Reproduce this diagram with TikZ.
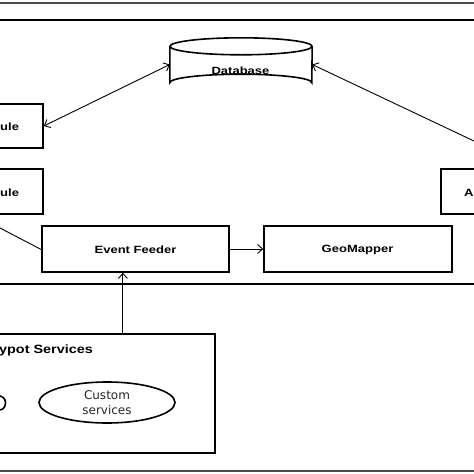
\documentclass[tikz,border=0pt]{standalone}
\usepackage{fontspec}
\usepackage{graphicx}
\setmainfont{Liberation Sans}
\newfontfamily\csfont{DejaVu Sans}
\usetikzlibrary{arrows.meta,shapes.geometric,calc}
\newcommand\wtxt[1]{\scalebox{1.24}[1]{#1}}
\newcommand\htxt[1]{\scalebox{1.2}[1]{#1}}
\tikzset{
  boxst/.style={draw, line width=1.6pt, rectangle, inner sep=0pt},
  lbl/.style={font=\fontsize{10.5}{12}\selectfont\bfseries, inner sep=0pt},
  hlbl/.style={font=\fontsize{12}{14}\selectfont\bfseries, inner sep=0pt},
  arr/.style={line width=0.9pt, -{Straight Barb[length=5pt,width=9pt]}},
  darr/.style={line width=0.9pt, {Straight Barb[length=5pt,width=9pt]}-{Straight Barb[length=5pt,width=9pt]}},
  plain/.style={line width=0.9pt},
  frame/.style={line width=1.6pt},
  outer/.style={line width=1.2pt, black!70},
}
\begin{document}
\begin{tikzpicture}[x=1pt,y=-1pt]
\useasboundingbox (0,0) rectangle (474,474);
\clip (0,0) rectangle (474,474);
% outer lines
\draw[outer] (0,3) -- (474,3);
\draw[outer] (0,471) -- (474,471);
\draw[frame] (0,20) -- (474,20);
\draw[frame] (0,284) -- (474,284);
% database
\node[inner sep=0pt, minimum width=142pt, minimum height=36pt] (db) at (241,64.5) {};
\draw[line width=1.6pt] (db.north west) -- (db.south west)
  arc[start angle=180, end angle=0, x radius=71pt, y radius=8.5pt] -- (db.north east);
\draw[line width=1.6pt] (db.north) ellipse[x radius=71pt, y radius=8.5pt];
\node[lbl] (dbt) at (240.5,71) {\wtxt{Database}};
% module boxes
\node[boxst, minimum width=83pt, minimum height=44pt] (m1) at (1.5,126) {};
\node[lbl, anchor=west] (m1t) at (0,126.5) {\wtxt{ule}};
\node[boxst, minimum width=83pt, minimum height=45pt] (m2) at (1.5,191.5) {};
\node[lbl, anchor=west] (m2t) at (0,193) {\wtxt{ule}};
\node[boxst, minimum width=83pt, minimum height=45pt] (ab) at (482.5,191.5) {};
\node[lbl, anchor=west] (abt) at (464,193) {\wtxt{A}};
% event feeder and geomapper
\node[boxst, minimum width=187pt, minimum height=46pt] (ef) at (135.5,249) {};
\node[lbl] (eft) at (135.5,250) {\wtxt{Event Feeder}};
\node[boxst, minimum width=188pt, minimum height=46pt] (gm) at (358,249) {};
\node[lbl] (gmt) at (357.5,250) {\wtxt{GeoMapper}};
% honeypot services
\node[boxst, minimum width=255pt, minimum height=119pt] (hp) at (87.5,393.5) {};
\node[hlbl, anchor=east] (hpt) at (93,350) {\htxt{ypot Services}};
\node[draw, ellipse, line width=1.6pt, minimum width=136pt, minimum height=41pt, inner sep=0pt,
  font=\csfont\fontsize{12}{15}\selectfont, align=center, text=black!85] (cs) at (107,402.5) {Custom\\services};
\node[draw, ellipse, line width=1.6pt, minimum width=12pt, minimum height=14pt, inner sep=0pt] (sc) at (-0.5,403) {};
% connectors
\coordinate (rin) at (474,141);
\coordinate (lin) at (0,228);
\draw[darr] (m1.east) -- (db.west);
\draw[arr] (rin) -- (db.east);
\draw[arr] (ef.east) -- (gm.west);
\draw[plain] (lin) -- ([yshift=-0.5pt]ef.west);
\coordinate (efin) at ($(ef.south west)!0.433!(ef.south east)$);
\draw[arr] (hp.north -| efin) -- (efin);
\end{tikzpicture}
\end{document}
